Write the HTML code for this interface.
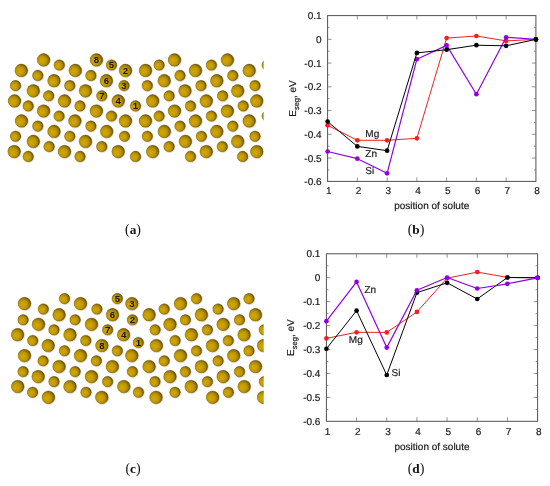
<!DOCTYPE html>
<html><head><meta charset="utf-8"><style>
html,body{margin:0;padding:0;background:#fff;}
body{width:550px;height:486px;overflow:hidden;}
svg{display:block;}
.sp circle{fill:url(#g);stroke:#5a4506;stroke-opacity:.55;stroke-width:.6px;}
.tl{font-family:"Liberation Sans",Arial,sans-serif;font-size:10px;fill:#1a1a1a;stroke:#1a1a1a;stroke-width:0.2px;text-rendering:geometricPrecision;}
.num text{font-family:"Liberation Sans",Arial,sans-serif;font-size:9.6px;font-weight:bold;fill:#1a1400;text-anchor:middle;}
.cap .bl{font-weight:bold;font-size:13.3px;}
.cap text{font-family:"Liberation Serif","Times New Roman",serif;font-size:14px;fill:#111;}
</style></head><body>
<svg width="550" height="486" viewBox="0 0 550 486">
<defs>
<radialGradient id="g" cx="0.43" cy="0.55" r="0.6" fx="0.33" fy="0.6">
<stop offset="0" stop-color="#d4a604"/>
<stop offset="0.35" stop-color="#c99f00"/>
<stop offset="0.6" stop-color="#b69100"/>
<stop offset="0.76" stop-color="#9c7a00"/>
<stop offset="0.88" stop-color="#7a5e02"/>
<stop offset="1" stop-color="#56430a"/>
</radialGradient>
<filter id="bl" x="-5%" y="-5%" width="110%" height="110%"><feGaussianBlur in="SourceGraphic" stdDeviation="0.35" result="b"/><feDropShadow in="b" dx="0.5" dy="0.6" stdDeviation="0.7" flood-color="#000" flood-opacity="0.22"/></filter>
<clipPath id="ca"><rect x="0" y="0" width="263.7" height="240"/></clipPath>
<clipPath id="cc"><rect x="0" y="240" width="263.7" height="240"/></clipPath>
</defs>
<g clip-path="url(#ca)"><g class="sp" filter="url(#bl)"><circle cx="43.6" cy="59.9" r="6.35"/><circle cx="96.4" cy="59.9" r="6.35"/><circle cx="174.5" cy="59.9" r="6.35"/><circle cx="227.4" cy="59.9" r="6.35"/><circle cx="59.3" cy="65.0" r="5.30"/><circle cx="111.5" cy="65.0" r="5.30"/><circle cx="159.1" cy="65.0" r="5.30"/><circle cx="211.4" cy="65.0" r="5.30"/><circle cx="267.2" cy="65.0" r="5.30"/><circle cx="21.3" cy="70.4" r="6.35"/><circle cx="75.3" cy="70.4" r="6.35"/><circle cx="125.5" cy="70.4" r="6.35"/><circle cx="145.5" cy="70.4" r="6.35"/><circle cx="195.5" cy="70.4" r="6.35"/><circle cx="249.2" cy="70.4" r="6.35"/><circle cx="37.8" cy="75.4" r="5.30"/><circle cx="90.9" cy="75.4" r="5.30"/><circle cx="180.0" cy="75.4" r="5.30"/><circle cx="232.8" cy="75.4" r="5.30"/><circle cx="54.0" cy="80.7" r="6.35"/><circle cx="106.4" cy="80.7" r="6.35"/><circle cx="164.2" cy="80.7" r="6.35"/><circle cx="216.8" cy="80.7" r="6.35"/><circle cx="15.5" cy="85.6" r="5.30"/><circle cx="69.8" cy="85.6" r="5.30"/><circle cx="124.0" cy="85.6" r="5.30"/><circle cx="147.3" cy="85.6" r="5.30"/><circle cx="201.0" cy="85.6" r="5.30"/><circle cx="255.0" cy="85.6" r="5.30"/><circle cx="33.3" cy="90.8" r="6.35"/><circle cx="85.5" cy="90.8" r="6.35"/><circle cx="185.0" cy="90.8" r="6.35"/><circle cx="237.7" cy="90.8" r="6.35"/><circle cx="48.7" cy="95.8" r="5.30"/><circle cx="101.8" cy="95.8" r="5.30"/><circle cx="169.1" cy="95.8" r="5.30"/><circle cx="222.6" cy="95.8" r="5.30"/><circle cx="14.5" cy="100.9" r="6.35"/><circle cx="64.5" cy="100.9" r="6.35"/><circle cx="118.2" cy="100.9" r="6.35"/><circle cx="152.7" cy="100.9" r="6.35"/><circle cx="206.3" cy="100.9" r="6.35"/><circle cx="256.8" cy="100.9" r="6.35"/><circle cx="28.2" cy="105.9" r="5.30"/><circle cx="80.0" cy="105.9" r="5.30"/><circle cx="135.5" cy="105.9" r="5.30"/><circle cx="190.5" cy="105.9" r="5.30"/><circle cx="243.2" cy="105.9" r="5.30"/><circle cx="43.6" cy="111.0" r="6.35"/><circle cx="96.4" cy="111.0" r="6.35"/><circle cx="174.5" cy="111.0" r="6.35"/><circle cx="227.4" cy="111.0" r="6.35"/><circle cx="59.1" cy="116.0" r="5.30"/><circle cx="111.5" cy="116.0" r="5.30"/><circle cx="159.1" cy="116.0" r="5.30"/><circle cx="211.4" cy="116.0" r="5.30"/><circle cx="267.2" cy="116.0" r="5.30"/><circle cx="21.5" cy="120.9" r="6.35"/><circle cx="74.9" cy="120.9" r="6.35"/><circle cx="125.5" cy="120.9" r="6.35"/><circle cx="145.5" cy="120.9" r="6.35"/><circle cx="195.5" cy="120.9" r="6.35"/><circle cx="249.2" cy="120.9" r="6.35"/><circle cx="37.8" cy="126.1" r="5.30"/><circle cx="90.9" cy="126.1" r="5.30"/><circle cx="180.0" cy="126.1" r="5.30"/><circle cx="232.8" cy="126.1" r="5.30"/><circle cx="54.0" cy="131.4" r="6.35"/><circle cx="106.7" cy="131.4" r="6.35"/><circle cx="164.3" cy="131.4" r="6.35"/><circle cx="216.8" cy="131.4" r="6.35"/><circle cx="15.5" cy="136.2" r="5.30"/><circle cx="69.8" cy="136.2" r="5.30"/><circle cx="124.5" cy="136.2" r="5.30"/><circle cx="147.3" cy="136.2" r="5.30"/><circle cx="201.4" cy="136.2" r="5.30"/><circle cx="255.0" cy="136.2" r="5.30"/><circle cx="33.3" cy="141.4" r="6.35"/><circle cx="85.5" cy="141.4" r="6.35"/><circle cx="185.4" cy="141.4" r="6.35"/><circle cx="237.7" cy="141.4" r="6.35"/><circle cx="49.1" cy="146.5" r="5.30"/><circle cx="101.8" cy="146.5" r="5.30"/><circle cx="169.1" cy="146.5" r="5.30"/><circle cx="222.3" cy="146.5" r="5.30"/><circle cx="14.2" cy="151.6" r="6.35"/><circle cx="64.5" cy="151.6" r="6.35"/><circle cx="118.2" cy="151.6" r="6.35"/><circle cx="152.7" cy="151.6" r="6.35"/><circle cx="206.3" cy="151.6" r="6.35"/><circle cx="256.8" cy="151.6" r="6.35"/><circle cx="28.2" cy="156.4" r="5.30"/><circle cx="80.0" cy="156.4" r="5.30"/><circle cx="135.5" cy="156.4" r="5.30"/><circle cx="190.5" cy="156.4" r="5.30"/><circle cx="242.6" cy="156.4" r="5.30"/></g></g><g class="num"><text x="96.4" y="63.3">8</text><text x="111.5" y="68.4">5</text><text x="125.5" y="73.8">2</text><text x="106.4" y="84.1">6</text><text x="124.0" y="89.0">3</text><text x="101.8" y="99.2">7</text><text x="118.2" y="104.3">4</text><text x="135.5" y="109.3">1</text></g>
<g clip-path="url(#cc)"><g class="sp" filter="url(#bl)"><circle cx="64.5" cy="298.6" r="5.30"/><circle cx="117.3" cy="298.6" r="5.30"/><circle cx="196.5" cy="298.6" r="5.30"/><circle cx="249.0" cy="298.6" r="5.30"/><circle cx="24.5" cy="303.6" r="6.35"/><circle cx="80.5" cy="303.6" r="6.35"/><circle cx="131.9" cy="303.6" r="6.35"/><circle cx="180.5" cy="303.6" r="6.35"/><circle cx="233.7" cy="303.6" r="6.35"/><circle cx="43.3" cy="309.0" r="5.30"/><circle cx="96.9" cy="309.0" r="5.30"/><circle cx="164.2" cy="309.0" r="5.30"/><circle cx="218.1" cy="309.0" r="5.30"/><circle cx="59.1" cy="314.7" r="6.35"/><circle cx="112.5" cy="314.7" r="6.35"/><circle cx="149.1" cy="314.7" r="6.35"/><circle cx="201.4" cy="314.7" r="6.35"/><circle cx="255.5" cy="314.7" r="6.35"/><circle cx="23.1" cy="319.8" r="5.30"/><circle cx="75.1" cy="319.8" r="5.30"/><circle cx="132.4" cy="319.8" r="5.30"/><circle cx="185.4" cy="319.8" r="5.30"/><circle cx="239.5" cy="319.8" r="5.30"/><circle cx="38.5" cy="324.3" r="6.35"/><circle cx="91.5" cy="324.3" r="6.35"/><circle cx="170.0" cy="324.3" r="6.35"/><circle cx="223.2" cy="324.3" r="6.35"/><circle cx="54.0" cy="329.8" r="5.30"/><circle cx="107.6" cy="329.8" r="5.30"/><circle cx="155.1" cy="329.8" r="5.30"/><circle cx="207.4" cy="329.8" r="5.30"/><circle cx="264.3" cy="329.8" r="5.30"/><circle cx="17.6" cy="334.7" r="6.35"/><circle cx="70.0" cy="334.7" r="6.35"/><circle cx="123.6" cy="334.7" r="6.35"/><circle cx="191.4" cy="334.7" r="6.35"/><circle cx="244.1" cy="334.7" r="6.35"/><circle cx="32.7" cy="340.5" r="5.30"/><circle cx="85.8" cy="340.5" r="5.30"/><circle cx="138.3" cy="342.5" r="5.30"/><circle cx="175.1" cy="340.5" r="5.30"/><circle cx="228.3" cy="340.5" r="5.30"/><circle cx="48.2" cy="345.5" r="6.35"/><circle cx="101.9" cy="345.5" r="6.35"/><circle cx="156.4" cy="345.5" r="6.35"/><circle cx="212.5" cy="345.5" r="6.35"/><circle cx="263.6" cy="345.5" r="6.35"/><circle cx="64.5" cy="350.7" r="5.30"/><circle cx="117.3" cy="350.7" r="5.30"/><circle cx="196.5" cy="350.7" r="5.30"/><circle cx="249.0" cy="350.7" r="5.30"/><circle cx="24.5" cy="355.6" r="6.35"/><circle cx="80.5" cy="355.6" r="6.35"/><circle cx="131.8" cy="355.6" r="6.35"/><circle cx="180.5" cy="355.6" r="6.35"/><circle cx="233.7" cy="355.6" r="6.35"/><circle cx="43.1" cy="360.8" r="5.30"/><circle cx="96.4" cy="360.8" r="5.30"/><circle cx="164.2" cy="360.8" r="5.30"/><circle cx="218.1" cy="360.8" r="5.30"/><circle cx="59.1" cy="366.5" r="6.35"/><circle cx="112.4" cy="366.5" r="6.35"/><circle cx="149.1" cy="366.5" r="6.35"/><circle cx="201.4" cy="366.5" r="6.35"/><circle cx="255.5" cy="366.5" r="6.35"/><circle cx="23.1" cy="371.6" r="5.30"/><circle cx="75.1" cy="371.6" r="5.30"/><circle cx="132.4" cy="371.6" r="5.30"/><circle cx="185.4" cy="371.6" r="5.30"/><circle cx="239.5" cy="371.6" r="5.30"/><circle cx="38.2" cy="376.6" r="6.35"/><circle cx="91.5" cy="376.6" r="6.35"/><circle cx="170.0" cy="376.6" r="6.35"/><circle cx="223.2" cy="376.6" r="6.35"/><circle cx="54.0" cy="381.6" r="5.30"/><circle cx="107.6" cy="381.6" r="5.30"/><circle cx="155.0" cy="381.6" r="5.30"/><circle cx="207.4" cy="381.6" r="5.30"/><circle cx="264.4" cy="381.6" r="5.30"/><circle cx="17.7" cy="386.5" r="6.35"/><circle cx="70.0" cy="386.5" r="6.35"/><circle cx="123.8" cy="386.5" r="6.35"/><circle cx="191.2" cy="386.5" r="6.35"/><circle cx="244.2" cy="386.5" r="6.35"/><circle cx="32.6" cy="392.2" r="5.30"/><circle cx="86.0" cy="392.2" r="5.30"/><circle cx="138.5" cy="392.2" r="5.30"/><circle cx="175.0" cy="392.2" r="5.30"/><circle cx="228.4" cy="392.2" r="5.30"/><circle cx="48.4" cy="397.3" r="6.35"/><circle cx="101.8" cy="397.3" r="6.35"/><circle cx="156.0" cy="397.3" r="6.35"/><circle cx="212.6" cy="397.3" r="6.35"/><circle cx="263.6" cy="397.3" r="6.35"/></g></g><g class="num"><text x="117.3" y="302.0">5</text><text x="131.9" y="307.0">3</text><text x="112.5" y="318.1">6</text><text x="132.4" y="323.2">2</text><text x="107.6" y="333.2">7</text><text x="123.6" y="338.1">4</text><text x="138.3" y="345.9">1</text><text x="101.9" y="348.9">8</text></g>
<rect x="327.6" y="15.6" width="208.30" height="165.80" fill="none" stroke="#525252" stroke-width="1"/><path d="M327.6 27.42h2M535.9 27.42h-2M327.6 39.30h4M535.9 39.30h-4M327.6 51.18h2M535.9 51.18h-2M327.6 63.05h4M535.9 63.05h-4M327.6 74.92h2M535.9 74.92h-2M327.6 86.80h4M535.9 86.80h-4M327.6 98.67h2M535.9 98.67h-2M327.6 110.55h4M535.9 110.55h-4M327.6 122.42h2M535.9 122.42h-2M327.6 134.30h4M535.9 134.30h-4M327.6 146.18h2M535.9 146.18h-2M327.6 158.05h4M535.9 158.05h-4M327.6 169.93h2M535.9 169.93h-2M357.36 181.4v-4M357.36 15.6v4M387.11 181.4v-4M387.11 15.6v4M416.87 181.4v-4M416.87 15.6v4M446.63 181.4v-4M446.63 15.6v4M476.39 181.4v-4M476.39 15.6v4M506.14 181.4v-4M506.14 15.6v4" stroke="#666" stroke-width="0.7" fill="none"/><text class="tl" transform="translate(321.60,19.15) scale(1.0,1)" text-anchor="end">0.1</text><text class="tl" transform="translate(321.60,42.90) scale(1.0,1)" text-anchor="end">0</text><text class="tl" transform="translate(321.60,66.65) scale(1.0,1)" text-anchor="end">-0.1</text><text class="tl" transform="translate(321.60,90.40) scale(1.0,1)" text-anchor="end">-0.2</text><text class="tl" transform="translate(321.60,114.15) scale(1.0,1)" text-anchor="end">-0.3</text><text class="tl" transform="translate(321.60,137.90) scale(1.0,1)" text-anchor="end">-0.4</text><text class="tl" transform="translate(321.60,161.65) scale(1.0,1)" text-anchor="end">-0.5</text><text class="tl" transform="translate(321.60,185.40) scale(1.0,1)" text-anchor="end">-0.6</text><text class="tl" transform="translate(328.80,194.40) scale(1.0,1)" text-anchor="middle">1</text><text class="tl" transform="translate(358.56,194.40) scale(1.0,1)" text-anchor="middle">2</text><text class="tl" transform="translate(388.31,194.40) scale(1.0,1)" text-anchor="middle">3</text><text class="tl" transform="translate(418.07,194.40) scale(1.0,1)" text-anchor="middle">4</text><text class="tl" transform="translate(447.83,194.40) scale(1.0,1)" text-anchor="middle">5</text><text class="tl" transform="translate(477.59,194.40) scale(1.0,1)" text-anchor="middle">6</text><text class="tl" transform="translate(507.34,194.40) scale(1.0,1)" text-anchor="middle">7</text><text class="tl" transform="translate(537.10,194.40) scale(1.0,1)" text-anchor="middle">8</text><polyline points="327.60,125.30 357.36,140.30 387.11,140.30 416.87,138.30 446.63,38.10 476.39,36.00 506.14,40.90 535.90,39.40" fill="none" stroke="#ee2222" stroke-width="1" stroke-linejoin="round"/><circle cx="327.60" cy="125.30" r="2.35" fill="#ee2222"/><circle cx="357.36" cy="140.30" r="2.35" fill="#ee2222"/><circle cx="387.11" cy="140.30" r="2.35" fill="#ee2222"/><circle cx="416.87" cy="138.30" r="2.35" fill="#ee2222"/><circle cx="446.63" cy="38.10" r="2.35" fill="#ee2222"/><circle cx="476.39" cy="36.00" r="2.35" fill="#ee2222"/><circle cx="506.14" cy="40.90" r="2.35" fill="#ee2222"/><circle cx="535.90" cy="39.40" r="2.35" fill="#ee2222"/><polyline points="327.60,151.50 357.36,158.70 387.11,173.30 416.87,59.20 446.63,45.40 476.39,94.20 506.14,37.30 535.90,39.40" fill="none" stroke="#9300e0" stroke-width="1.2" stroke-linejoin="round"/><circle cx="327.60" cy="151.50" r="2.35" fill="#9300e0"/><circle cx="357.36" cy="158.70" r="2.35" fill="#9300e0"/><circle cx="387.11" cy="173.30" r="2.35" fill="#9300e0"/><circle cx="416.87" cy="59.20" r="2.35" fill="#9300e0"/><circle cx="446.63" cy="45.40" r="2.35" fill="#9300e0"/><circle cx="476.39" cy="94.20" r="2.35" fill="#9300e0"/><circle cx="506.14" cy="37.30" r="2.35" fill="#9300e0"/><circle cx="535.90" cy="39.40" r="2.35" fill="#9300e0"/><polyline points="327.60,121.60 357.36,146.40 387.11,150.70 416.87,52.90 446.63,49.70 476.39,45.20 506.14,45.80 535.90,39.40" fill="none" stroke="#000000" stroke-width="1" stroke-linejoin="round"/><circle cx="327.60" cy="121.60" r="2.35" fill="#000000"/><circle cx="357.36" cy="146.40" r="2.35" fill="#000000"/><circle cx="387.11" cy="150.70" r="2.35" fill="#000000"/><circle cx="416.87" cy="52.90" r="2.35" fill="#000000"/><circle cx="446.63" cy="49.70" r="2.35" fill="#000000"/><circle cx="476.39" cy="45.20" r="2.35" fill="#000000"/><circle cx="506.14" cy="45.80" r="2.35" fill="#000000"/><circle cx="535.90" cy="39.40" r="2.35" fill="#000000"/><text class="tl" transform="translate(365.30,137.30) scale(1.0,1)">Mg</text><text class="tl" transform="translate(365.30,156.80) scale(1.0,1)">Zn</text><text class="tl" transform="translate(365.30,174.20) scale(1.0,1)">Si</text><text class="tl" transform="translate(431.75,209.10) scale(1.0,1)" text-anchor="middle">position of solute</text><text class="tl" transform="translate(296.4,98.5) rotate(-90)" text-anchor="middle">E<tspan font-size="7.5" dy="2.4">seg</tspan><tspan dy="-2.4">, eV</tspan></text>
<rect x="326.4" y="253.8" width="211.20" height="167.50" fill="none" stroke="#525252" stroke-width="1"/><path d="M326.4 265.72h2M537.6 265.72h-2M326.4 277.70h4M537.6 277.70h-4M326.4 289.68h2M537.6 289.68h-2M326.4 301.65h4M537.6 301.65h-4M326.4 313.62h2M537.6 313.62h-2M326.4 325.60h4M537.6 325.60h-4M326.4 337.57h2M537.6 337.57h-2M326.4 349.55h4M537.6 349.55h-4M326.4 361.52h2M537.6 361.52h-2M326.4 373.50h4M537.6 373.50h-4M326.4 385.48h2M537.6 385.48h-2M326.4 397.45h4M537.6 397.45h-4M326.4 409.42h2M537.6 409.42h-2M356.57 421.3v-4M356.57 253.8v4M386.74 421.3v-4M386.74 253.8v4M416.91 421.3v-4M416.91 253.8v4M447.09 421.3v-4M447.09 253.8v4M477.26 421.3v-4M477.26 253.8v4M507.43 421.3v-4M507.43 253.8v4" stroke="#666" stroke-width="0.7" fill="none"/><text class="tl" transform="translate(320.40,257.35) scale(1.0,1)" text-anchor="end">0.1</text><text class="tl" transform="translate(320.40,281.30) scale(1.0,1)" text-anchor="end">0</text><text class="tl" transform="translate(320.40,305.25) scale(1.0,1)" text-anchor="end">-0.1</text><text class="tl" transform="translate(320.40,329.20) scale(1.0,1)" text-anchor="end">-0.2</text><text class="tl" transform="translate(320.40,353.15) scale(1.0,1)" text-anchor="end">-0.3</text><text class="tl" transform="translate(320.40,377.10) scale(1.0,1)" text-anchor="end">-0.4</text><text class="tl" transform="translate(320.40,401.05) scale(1.0,1)" text-anchor="end">-0.5</text><text class="tl" transform="translate(320.40,425.00) scale(1.0,1)" text-anchor="end">-0.6</text><text class="tl" transform="translate(327.60,434.90) scale(1.0,1)" text-anchor="middle">1</text><text class="tl" transform="translate(357.77,434.90) scale(1.0,1)" text-anchor="middle">2</text><text class="tl" transform="translate(387.94,434.90) scale(1.0,1)" text-anchor="middle">3</text><text class="tl" transform="translate(418.11,434.90) scale(1.0,1)" text-anchor="middle">4</text><text class="tl" transform="translate(448.29,434.90) scale(1.0,1)" text-anchor="middle">5</text><text class="tl" transform="translate(478.46,434.90) scale(1.0,1)" text-anchor="middle">6</text><text class="tl" transform="translate(508.63,434.90) scale(1.0,1)" text-anchor="middle">7</text><text class="tl" transform="translate(538.80,434.90) scale(1.0,1)" text-anchor="middle">8</text><polyline points="326.40,338.40 356.57,332.30 386.74,332.40 416.91,311.90 447.09,278.20 477.26,272.10 507.43,277.40 537.60,277.80" fill="none" stroke="#ee2222" stroke-width="1" stroke-linejoin="round"/><circle cx="326.40" cy="338.40" r="2.35" fill="#ee2222"/><circle cx="356.57" cy="332.30" r="2.35" fill="#ee2222"/><circle cx="386.74" cy="332.40" r="2.35" fill="#ee2222"/><circle cx="416.91" cy="311.90" r="2.35" fill="#ee2222"/><circle cx="447.09" cy="278.20" r="2.35" fill="#ee2222"/><circle cx="477.26" cy="272.10" r="2.35" fill="#ee2222"/><circle cx="507.43" cy="277.40" r="2.35" fill="#ee2222"/><circle cx="537.60" cy="277.80" r="2.35" fill="#ee2222"/><polyline points="326.40,348.80 356.57,310.70 386.74,375.00 416.91,292.70 447.09,282.80 477.26,299.00 507.43,277.50 537.60,277.80" fill="none" stroke="#000000" stroke-width="1" stroke-linejoin="round"/><circle cx="326.40" cy="348.80" r="2.35" fill="#000000"/><circle cx="356.57" cy="310.70" r="2.35" fill="#000000"/><circle cx="386.74" cy="375.00" r="2.35" fill="#000000"/><circle cx="416.91" cy="292.70" r="2.35" fill="#000000"/><circle cx="447.09" cy="282.80" r="2.35" fill="#000000"/><circle cx="477.26" cy="299.00" r="2.35" fill="#000000"/><circle cx="507.43" cy="277.50" r="2.35" fill="#000000"/><circle cx="537.60" cy="277.80" r="2.35" fill="#000000"/><polyline points="326.40,321.20 356.57,281.90 386.74,347.60 416.91,290.30 447.09,277.50 477.26,288.50 507.43,283.80 537.60,277.80" fill="none" stroke="#9300e0" stroke-width="1.2" stroke-linejoin="round"/><circle cx="326.40" cy="321.20" r="2.35" fill="#9300e0"/><circle cx="356.57" cy="281.90" r="2.35" fill="#9300e0"/><circle cx="386.74" cy="347.60" r="2.35" fill="#9300e0"/><circle cx="416.91" cy="290.30" r="2.35" fill="#9300e0"/><circle cx="447.09" cy="277.50" r="2.35" fill="#9300e0"/><circle cx="477.26" cy="288.50" r="2.35" fill="#9300e0"/><circle cx="507.43" cy="283.80" r="2.35" fill="#9300e0"/><circle cx="537.60" cy="277.80" r="2.35" fill="#9300e0"/><text class="tl" transform="translate(364.50,292.60) scale(1.0,1)">Zn</text><text class="tl" transform="translate(348.80,343.40) scale(1.0,1)">Mg</text><text class="tl" transform="translate(391.50,376.20) scale(1.0,1)">Si</text><text class="tl" transform="translate(432.00,449.60) scale(1.0,1)" text-anchor="middle">position of solute</text><text class="tl" transform="translate(294.4,337.6) rotate(-90)" text-anchor="middle">E<tspan font-size="7.5" dy="2.4">seg</tspan><tspan dy="-2.4">, eV</tspan></text>
<g class="cap">
<text x="125" y="234.2">(<tspan class="bl">a</tspan>)</text>
<text x="407.7" y="234.2">(<tspan class="bl">b</tspan>)</text>
<text x="125.4" y="473.4">(<tspan class="bl">c</tspan>)</text>
<text x="407.7" y="473.4">(<tspan class="bl">d</tspan>)</text>
</g>
</svg>
</body></html>
